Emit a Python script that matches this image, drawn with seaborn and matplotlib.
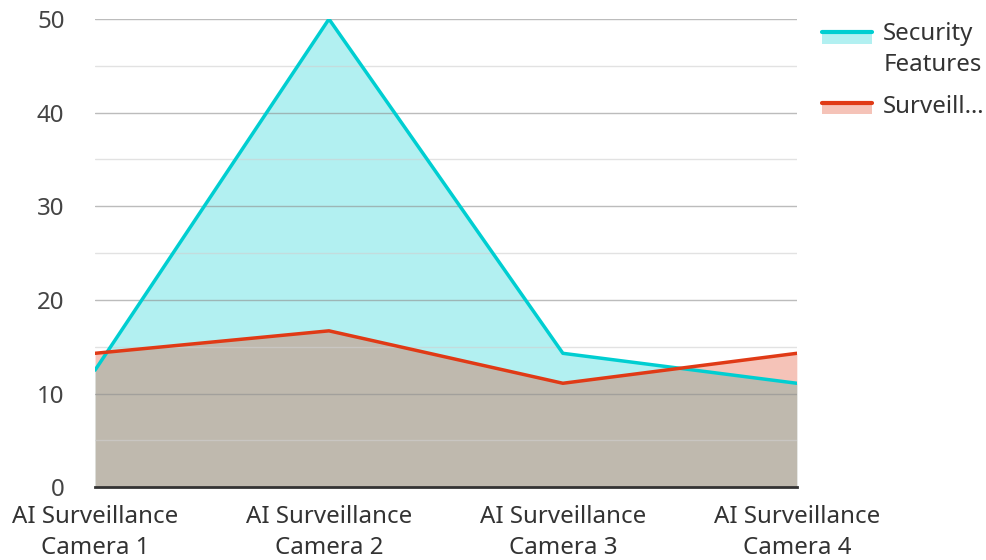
import matplotlib
matplotlib.use('Agg')

import matplotlib.pyplot as plt
import seaborn as sns
import numpy as np
import pandas as pd
from matplotlib.patches import Rectangle
from matplotlib.lines import Line2D
from matplotlib.legend_handler import HandlerBase

# Data
cameras = ['AI Surveillance\nCamera 1', 'AI Surveillance\nCamera 2',
           'AI Surveillance\nCamera 3', 'AI Surveillance\nCamera 4']
security = [12.5, 50.0, 14.3, 11.1]
surveillance = [14.3, 16.7, 11.1, 14.3]
series_names = ['Security\nFeatures', 'Surveill…']
colors = ['#00CED1', '#E03A16']
y_ticks = [0, 10, 20, 30, 40, 50]


class AreaHandler(HandlerBase):
    # line level with the first text line, fill patch hanging below it
    def __init__(self, color, lift=0.0):
        super().__init__()
        self.color = color
        self.lift = lift

    def create_artists(self, legend, orig_handle, xdescent, ydescent,
                       width, height, fontsize, trans):
        y = height * 0.5 + 1.5 + self.lift
        patch = Rectangle((-xdescent, y - 8.5), width, 8.5,
                          facecolor=self.color, alpha=0.3, linewidth=0,
                          transform=trans)
        line = Line2D([-xdescent, -xdescent + width], [y, y],
                      color=self.color, linewidth=3, transform=trans)
        return [patch, line]


if __name__ == "__main__":
    sns.set_style('white')
    plt.rcParams['font.family'] = ['Noto Sans', 'DejaVu Sans']

    df = pd.DataFrame({
        'x': np.arange(len(cameras)),
        series_names[0]: security,
        series_names[1]: surveillance,
    })

    fig = plt.figure(figsize=(9.87, 5.6), dpi=100)
    ax = fig.add_axes([0.0963, 0.130, 0.711, 0.836])

    # Fills first, red over cyan
    ax.fill_between(df['x'], df[series_names[0]], color=colors[0], alpha=0.3, linewidth=0, zorder=1)
    ax.fill_between(df['x'], df[series_names[1]], color=colors[1], alpha=0.3, linewidth=0, zorder=1)

    # Grid above fills
    for v in np.arange(5, 50, 10):
        ax.axhline(v, color='#d0d0d0', linewidth=1, alpha=0.6, zorder=2)
    for v in y_ticks[1:]:
        ax.axhline(v, color='#909090', linewidth=1, alpha=0.6, zorder=2)

    sns.lineplot(data=df, x='x', y=series_names[0], color=colors[0], linewidth=2.5, ax=ax, zorder=3)
    sns.lineplot(data=df, x='x', y=series_names[1], color=colors[1], linewidth=2.5, ax=ax, zorder=4)

    ax.set_xlim(0, len(cameras) - 1)
    ax.set_ylim(0, 50)
    ax.set_xticks(df['x'])
    ax.set_xticklabels(cameras, fontsize=17.3, color='#333333', linespacing=1.4)
    ax.set_yticks(y_ticks)
    ax.set_yticklabels([str(v) for v in y_ticks], fontsize=17.3, color='#444444')
    ax.tick_params(axis='x', length=0, pad=13)
    ax.tick_params(axis='y', length=0, pad=22)
    ax.set_xlabel('')
    ax.set_ylabel('')

    for s in ['left', 'right', 'top']:
        ax.spines[s].set_visible(False)
    ax.spines['bottom'].set_color('#333333')
    ax.spines['bottom'].set_linewidth(2)
    ax.spines['bottom'].set_zorder(5)

    h1 = Rectangle((0, 0), 1, 1)
    h2 = Rectangle((0, 0), 1, 1)
    leg = ax.legend([h1, h2], series_names,
                    handler_map={h1: AreaHandler(colors[0], lift=11.2), h2: AreaHandler(colors[1])},
                    loc='upper left', bbox_to_anchor=(1.005, 1.04),
                    frameon=False, fontsize=17.3, handlelength=2.1,
                    handletextpad=0.45, labelspacing=0.75)
    for t in leg.get_texts():
        t.set_color('#333333')
        t.set_linespacing(1.4)

    plt.savefig('out.png', dpi=100)
